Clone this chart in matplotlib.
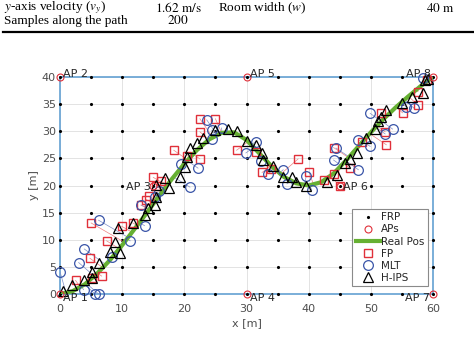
import matplotlib
matplotlib.use("Agg")
import matplotlib.pyplot as plt
import numpy as np

plt.rcParams["mathtext.fontset"] = "stix"

# real path
path_x = [0, 2, 4, 6, 8, 10, 12, 14, 16, 18, 20, 22, 24, 26, 28, 30, 32, 34, 36, 38,
          40, 42, 44, 46, 48, 50, 52, 54, 56, 58, 60]
path_y = [0, 0.5, 1.8, 3.8, 6.2, 9.0, 12.0, 15.0, 18.2, 21.2, 24.0, 26.5, 28.5, 29.7, 29.8, 28.4,
          26.0, 23.6, 21.6, 20.4, 20.0, 20.6, 22.2, 24.6, 27.2, 29.8, 32.2, 34.4, 36.4, 38.3, 40]

# access points
ap_x = [0, 0, 15, 30, 30, 45, 60, 60]
ap_y = [0, 40, 20, 0, 40, 20, 0, 40]
ap_names = ["AP 1", "AP 2", "AP 3", "AP 4", "AP 5", "AP 6", "AP 7", "AP 8"]

# FP estimates
fp_x = [5.0, 9.9, 11.7, 7.5, 4.8, 6.7, 2.5, 5.1, 13.0, 13.9, 15.4, 15.0, 22.5, 25.0, 22.5, 18.3,
        22.5, 28.4, 31.6, 32.5, 38.3, 40.1, 44.0, 46.6, 44.0, 45.0, 52.5, 52.3, 51.7, 55.1, 57.6,
        57.6, 16.2, 14.3, 20.5, 34.0, 42.5, 48.5, 59.0]
fp_y = [13.1, 12.5, 13.1, 9.8, 6.6, 3.3, 2.5, 2.9, 16.4, 17.4, 19.9, 21.5, 32.3, 32.3, 29.9, 26.5,
        24.9, 26.5, 26.2, 22.4, 24.9, 22.4, 27.0, 23.2, 22.1, 19.9, 27.5, 29.9, 33.4, 33.4, 34.8,
        37.3, 20.8, 18.0, 25.5, 23.0, 21.0, 28.0, 39.5]

# MLT estimates
mlt_x = [6.2, 0.0, 3.0, 3.9, 11.3, 8.4, 5.6, 6.2, 3.8, 13.6, 13.1, 15.3, 20.9, 23.6, 24.4, 24.4,
         26.0, 22.2, 29.9, 31.5, 32.4, 33.5, 35.9, 36.5, 39.6, 40.5, 44.0, 44.4, 48.0, 48.0, 49.9,
         49.9, 52.3, 53.5, 57.0, 55.7, 58.4, 16.0, 19.5]
mlt_y = [13.6, 4.1, 5.8, 8.3, 9.8, 6.8, 0.0, 0.0, 0.8, 12.6, 16.4, 17.9, 19.7, 32.1, 30.2, 28.6,
         30.6, 23.2, 26.0, 28.1, 24.6, 22.2, 22.9, 20.3, 21.7, 19.1, 24.7, 26.9, 22.9, 28.4, 27.2,
         33.3, 29.5, 30.4, 34.2, 34.5, 39.8, 19.0, 24.0]

# H-IPS estimates
hips_x = [0.5, 1.9, 3.8, 5.1, 5.2, 6.2, 8.0, 8.8, 9.6, 9.4, 11.8, 13.7, 15.3, 15.5, 15.5, 16.9,
          19.3, 20.1, 20.4, 20.9, 22.0, 23.0, 24.9, 27.1, 28.5, 30.0, 31.5, 32.5, 32.7, 34.3, 35.9,
          37.3, 38.0, 39.6, 42.9, 44.5, 45.8, 46.6, 47.7, 49.3, 50.7, 51.2, 51.7, 52.5, 55.0, 56.6,
          58.4, 58.7, 59.2, 14.2, 17.5]
hips_y = [0.5, 1.7, 2.6, 2.9, 4.1, 5.7, 7.8, 9.6, 7.6, 12.1, 13.0, 14.6, 16.4, 17.9, 20.1, 21.3,
          21.6, 23.5, 25.3, 26.9, 27.8, 28.8, 30.2, 30.4, 30.1, 28.2, 27.5, 25.9, 24.7, 23.6, 21.6,
          21.6, 20.6, 19.9, 20.7, 21.9, 24.1, 24.8, 25.9, 28.7, 30.5, 31.8, 32.7, 33.9, 35.2, 36.4,
          37.0, 39.4, 39.6, 15.8, 19.5]


def nearest_on_path(px, py):
    # closest point of the real path polyline to an estimate
    best = None
    for i in range(len(path_x) - 1):
        a = np.array([path_x[i], path_y[i]])
        b = np.array([path_x[i + 1], path_y[i + 1]])
        p = np.array([px, py])
        t = np.clip(np.dot(p - a, b - a) / np.dot(b - a, b - a), 0, 1)
        q = a + t * (b - a)
        d = np.linalg.norm(p - q)
        if best is None or d < best[0]:
            best = (d, q)
    return best[1]


fig = plt.figure(figsize=(4.74, 3.51), dpi=100)

# table fragment above the plot
serif = ["Liberation Serif", "DejaVu Serif"]
tfs = 9.5
fig.text(4 / 474, 1 - 8 / 351, r"$y$-axis velocity ($v_y$)", family=serif, fontsize=tfs, va="center")
fig.text(155 / 474, 1 - 8 / 351, r"$1.62\ \mathrm{m/s}$", family=serif, fontsize=tfs, va="center")
fig.text(218 / 474, 1 - 8 / 351, r"Room width ($w$)", family=serif, fontsize=tfs, va="center")
fig.text(455 / 474, 1 - 8 / 351, r"$40\ \mathrm{m}$", family=serif, fontsize=tfs, va="center", ha="right")
fig.text(4 / 474, 1 - 21 / 351, "Samples along the path", family=serif, fontsize=tfs, va="center")
fig.text(178 / 474, 1 - 21 / 351, r"$200$", family=serif, fontsize=tfs, va="center", ha="center")
fig.add_artist(plt.Line2D([3 / 474, 1.0], [1 - 32 / 351, 1 - 32 / 351], color="black", lw=1.6))

ax = fig.add_axes([60 / 474, 1 - 294 / 351, 373 / 474, 217 / 351])
ax.set_xlim(0, 60)
ax.set_ylim(0, 40)
ax.set_xticks(np.arange(0, 61, 10))
ax.set_yticks(np.arange(0, 41, 5))
ax.grid(True, color="#e3e3e3", lw=0.7)
ax.set_axisbelow(True)
for s in ax.spines.values():
    s.set_visible(False)
ax.tick_params(length=0, labelsize=8, colors="#4d4d4d")
ax.tick_params(axis="x", pad=7)
ax.tick_params(axis="y", pad=3)
ax.set_xlabel("x [m]", fontsize=8, color="#4d4d4d", labelpad=3)
ax.set_ylabel("y [m]", fontsize=8, color="#4d4d4d", labelpad=2)

# room outline
ax.plot([0, 60, 60, 0, 0], [0, 0, 40, 40, 0], color="#6fa8d6", lw=1.3, clip_on=False, zorder=1)

# reference points grid
gx, gy = np.meshgrid(np.arange(0, 61, 5), np.arange(0, 41, 5))
ax.plot(gx.ravel(), gy.ravel(), ".", color="black", ms=2.5, clip_on=False, zorder=2, label="FRP")

ax.plot(ap_x, ap_y, "o", mfc="none", mec="#e0303a", ms=5, mew=0.8, clip_on=False, zorder=6,
        label="APs")
ax.plot(path_x, path_y, "-", color="#66b032", lw=3, zorder=3, label="Real Pos")

# error lines from estimates to the path
for ex, ey, c in [(fp_x, fp_y, "#f08080"), (mlt_x, mlt_y, "#8090c8")]:
    for px, py in zip(ex, ey):
        q = nearest_on_path(px, py)
        ax.plot([px, q[0]], [py, q[1]], color=c, lw=0.5, zorder=2.5)

ax.plot(fp_x, fp_y, "s", mfc="none", mec="#e0303a", ms=5.5, mew=1.0, zorder=4, label="FP",
        clip_on=False)
ax.plot(mlt_x, mlt_y, "o", mfc="none", mec="#3a55a8", ms=7, mew=0.9, zorder=4, label="MLT",
        clip_on=False)
ax.plot(hips_x, hips_y, "^", mfc="none", mec="black", ms=7.5, mew=0.9, zorder=5, label="H-IPS",
        clip_on=False)

ap_offsets = [(0.5, -0.8, "left"), (0.5, 40.6, "left"), (14.6, 19.7, "right"), (30.5, -0.8, "left"),
              (30.5, 40.6, "left"), (45.6, 19.7, "left"), (59.5, -0.7, "right"), (59.6, 40.6, "right")]
for name, (tx, ty, ha) in zip(ap_names, ap_offsets):
    ax.text(tx, ty, name, fontsize=8, color="#262626", ha=ha, va="center", zorder=7)

leg = ax.legend(loc="lower right", bbox_to_anchor=(0.987, 0.035), fontsize=7.5, frameon=True,
                fancybox=False, edgecolor="#8a8a8a", framealpha=1, handlelength=2.3,
                labelspacing=0.2, borderpad=0.35, handletextpad=0.15, borderaxespad=0)
leg.get_frame().set_linewidth(0.8)
leg.set_zorder(10)
for t in leg.get_texts():
    t.set_color("#262626")

fig.savefig("out.png", dpi=100)
